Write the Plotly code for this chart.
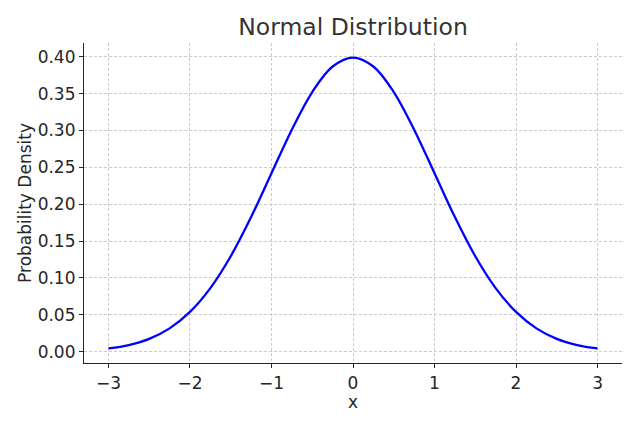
import plotly.graph_objects as go

# values
x_values = [-3.0, -2.75, -2.5, -2.25, -2.0, -1.75, -1.5, -1.25, -1.0, -0.75, -0.5, -0.25,
            0.0, 0.25, 0.5, 0.75, 1.0, 1.25, 1.5, 1.75, 2.0, 2.25, 2.5, 2.75, 3.0]
density = [0.0044, 0.0091, 0.0175, 0.0317, 0.054, 0.0863, 0.1295, 0.1826, 0.242, 0.3011,
           0.3521, 0.3867, 0.3989, 0.3867, 0.3521, 0.3011, 0.242, 0.1826, 0.1295, 0.0863,
           0.054, 0.0317, 0.0175, 0.0091, 0.0044]

x_ticks = [-3, -2, -1, 0, 1, 2, 3]
x_tick_labels = ["\u22123", "\u22122", "\u22121", "0", "1", "2", "3"]
y_ticks = [0.0, 0.05, 0.10, 0.15, 0.20, 0.25, 0.30, 0.35, 0.40]

font = "DejaVu Sans"
text_color = "#262626"

fig = go.Figure(go.Scatter(
    x=x_values, y=density, mode="lines", line=dict(color="#0000ff", width=2.3, shape="spline"),
))

axis_style = dict(
    showgrid=True, gridcolor="#cccccc", griddash="3px,2px", gridwidth=0.9,
    showline=True, linecolor="#262626", linewidth=1.2,
    ticks="outside", ticklen=4, tickcolor="#262626",
    tickfont=dict(family=font, size=17, color=text_color),
    zeroline=False,
)

fig.update_layout(
    width=638, height=425,
    margin=dict(l=84, r=16, t=43, b=62),
    paper_bgcolor="white", plot_bgcolor="white",
    showlegend=False,
    title=dict(text="Normal Distribution", x=0.5, xref="paper", xanchor="center",
               y=0.937, yanchor="middle",
               font=dict(family=font, size=23.5, color="#333333")),
    xaxis=dict(axis_style, range=[-3.3, 3.3], tickvals=x_ticks, ticktext=x_tick_labels,
               title=dict(text="x", font=dict(family=font, size=17, color=text_color), standoff=1)),
    yaxis=dict(axis_style, range=[-0.0153, 0.4186], tickvals=y_ticks, tickformat=".2f",
               title=dict(text="Probability Density", font=dict(family=font, size=17, color=text_color),
                          standoff=1)),
)

# drop the browser's default body margin so the figure sits at the window's corner
fig.write_html("out.html", config={"displayModeBar": False},
               post_script="document.body.style.margin = '0';")
